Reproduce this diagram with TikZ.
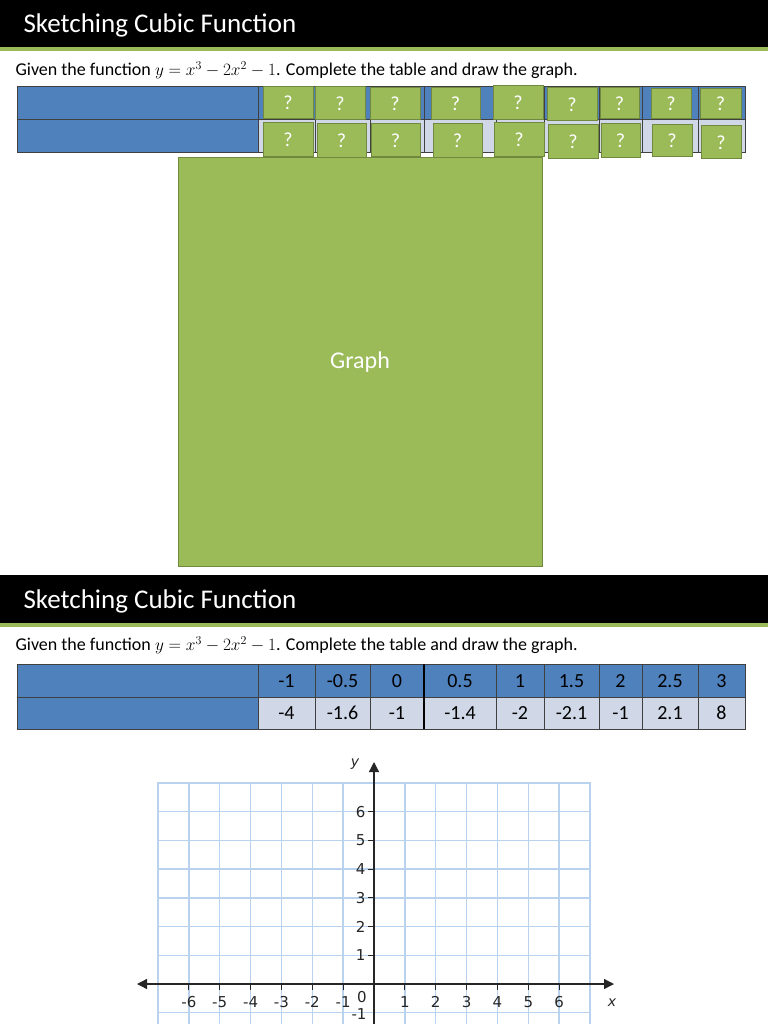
\documentclass[tikz,border=0pt]{standalone}
\usepackage{fontspec}
\usetikzlibrary{arrows.meta}
\setmainfont{Carlito}
\newfontfamily\vfont{DejaVu Sans}
\definecolor{hblue}{HTML}{4F81BD}
\definecolor{lblue}{HTML}{D0D8E8}
\definecolor{ggreen}{HTML}{9BBB59}
\definecolor{dgreen}{HTML}{71893F}
\definecolor{gridc}{HTML}{B9D3EE}
\begin{document}
\begin{tikzpicture}[x=1pt,y=-1pt,
  qbox/.style={draw=dgreen,line width=1pt,fill=ggreen,text=white,font=\fontsize{20}{20}\selectfont,inner sep=0pt},
  ttl/.style={text=white,font=\fontsize{27}{27}\selectfont,anchor=west},
  sub/.style={font=\fontsize{18}{18}\selectfont,anchor=west},
  cellt/.style={font=\fontsize{20}{20}\selectfont},
  tick/.style={font=\vfont\fontsize{15}{15}\selectfont,text=black!85}]
\useasboundingbox (0,0) rectangle (768,1024);
\fill[white] (0,0) rectangle (768,1024);
% ---------- section 1 ----------
\fill[black] (0,0) rectangle (768,47);
\fill[ggreen] (0,47) rectangle (768,51);
\node[ttl] (t1) at (20,25) {Sketching Cubic Function};
\node[sub] (s1) at (12,70) {Given the function $y=x^3-2x^2-1$. Complete the table and draw the graph.};
\fill[hblue] (17,87) rectangle (745,120);
\fill[hblue] (17,120) rectangle (258,153);
\fill[lblue] (258,120) rectangle (745,153);
\foreach \xa/\xb in {17/258,258/315,315/370,370/424,424/496,496/544,544/599,599/642,642/698,698/745}{
  \draw[black!75,line width=1pt] (\xa,87) rectangle (\xb,120);
  \draw[black!75,line width=1pt] (\xa,120) rectangle (\xb,153);}
\foreach \xa/\xb/\ya/\yb [count=\i] in {263/313/87/119,315/365/87/120,370/420/88/120,431/480/88/120,493/543/86/120,547/597/88/121,600/639/88/119,651/691/89/119,700/741/89/119}{
  \node[qbox,minimum width=\xb-\xa,minimum height=\yb-\ya] (qa\i) at ({(\xa+\xb)/2},{(\ya+\yb)/2}) {?};}
\foreach \xa/\xb/\ya/\yb [count=\i] in {263/313/123/157,317/366/124/158,371/420/124/157,433/482/124/158,494/544/123/157,548/598/125/159,601/640/124/158,652/692/125/157,701/741/126/159}{
  \node[qbox,minimum width=\xb-\xa,minimum height=\yb-\ya] (qb\i) at ({(\xa+\xb)/2},{(\ya+\yb)/2}) {?};}
\node[qbox,minimum width=364,minimum height=408,font=\fontsize{24}{24}\selectfont] (graph) at (360,362) {Graph};
% ---------- section 2 ----------
\fill[black] (0,575) rectangle (768,623);
\fill[ggreen] (0,623) rectangle (768,627);
\node[ttl] (t2) at (20,601) {Sketching Cubic Function};
\node[sub] (s2) at (12,645) {Given the function $y=x^3-2x^2-1$. Complete the table and draw the graph.};
\fill[hblue] (17,664) rectangle (745,697);
\fill[hblue] (17,697) rectangle (258,729);
\fill[lblue] (258,697) rectangle (745,729);
\foreach \xa/\xb/\va/\vb [count=\i] in {258/315/-1/-4,315/370/-0.5/-1.6,370/424/0/-1,424/496/0.5/-1.4,496/544/1/-2,544/599/1.5/-2.1,599/642/2/-1,642/698/2.5/2.1,698/745/3/8}{
  \draw[black!75,line width=1pt] (\xa,664) rectangle (\xb,697);
  \draw[black!75,line width=1pt] (\xa,697) rectangle (\xb,729);
  \node[cellt] (xv\i) at ({(\xa+\xb)/2},681) {\va};
  \node[cellt] (yv\i) at ({(\xa+\xb)/2},713) {\vb};}
\draw[black!75,line width=1pt] (17,664) rectangle (258,697);
\draw[black!75,line width=1pt] (17,697) rectangle (258,729);
\draw[black,line width=1.6pt] (424,664) -- (424,729);
% ---------- grid ----------
\begin{scope}
\clip (150,775) rectangle (600,1024);
\foreach \k in {-7,...,7}
  \draw[gridc,line width=1.5pt] ({374+30.86*\k},782) -- ({374+30.86*\k},1030);
\foreach \j in {-2,...,7}
  \draw[gridc,line width=1.5pt] (158,{984-28.71*\j}) -- (590,{984-28.71*\j});
\end{scope}
\coordinate (o0) at (374,984);
\coordinate (xl) at (137,984); \coordinate (xr) at (614,984);
\coordinate (yb) at (374,1024); \coordinate (yt) at (374,762);
\draw[black!85,line width=1.3pt,-{Triangle[width=10pt,length=10pt]}] (o0) -- (xr);
\draw[black!85,line width=1.3pt,-{Triangle[width=10pt,length=10pt]}] (o0) -- (xl);
\draw[black!85,line width=1.3pt,-{Triangle[width=10pt,length=10pt]}] (yb) -- (yt);
\foreach \k in {-6,...,-1,1,2,...,6}{
  \draw[black!85,line width=1pt] ({374+30.86*\k},984) -- ({374+30.86*\k},990);
  \node[tick] (xt\k) at ({374+30.86*\k},1002) {\k};}
\foreach \j in {1,...,6}{
  \draw[black!85,line width=1pt] (368,{984-28.71*\j}) -- (374,{984-28.71*\j});
  \node[tick,anchor=east] (yt\j) at (369,{984-28.71*\j}) {\j};}
\node[tick] (o) at (362,997) {0};
\node[tick,anchor=east] (ym1) at (370,1014) {-1};
\node[tick,font=\vfont\itshape\fontsize{14}{14}\selectfont] (ylab) at (355,764) {y};
\node[tick,font=\vfont\itshape\fontsize{14}{14}\selectfont] (xlab) at (612,1003) {x};
\end{tikzpicture}
\end{document}
